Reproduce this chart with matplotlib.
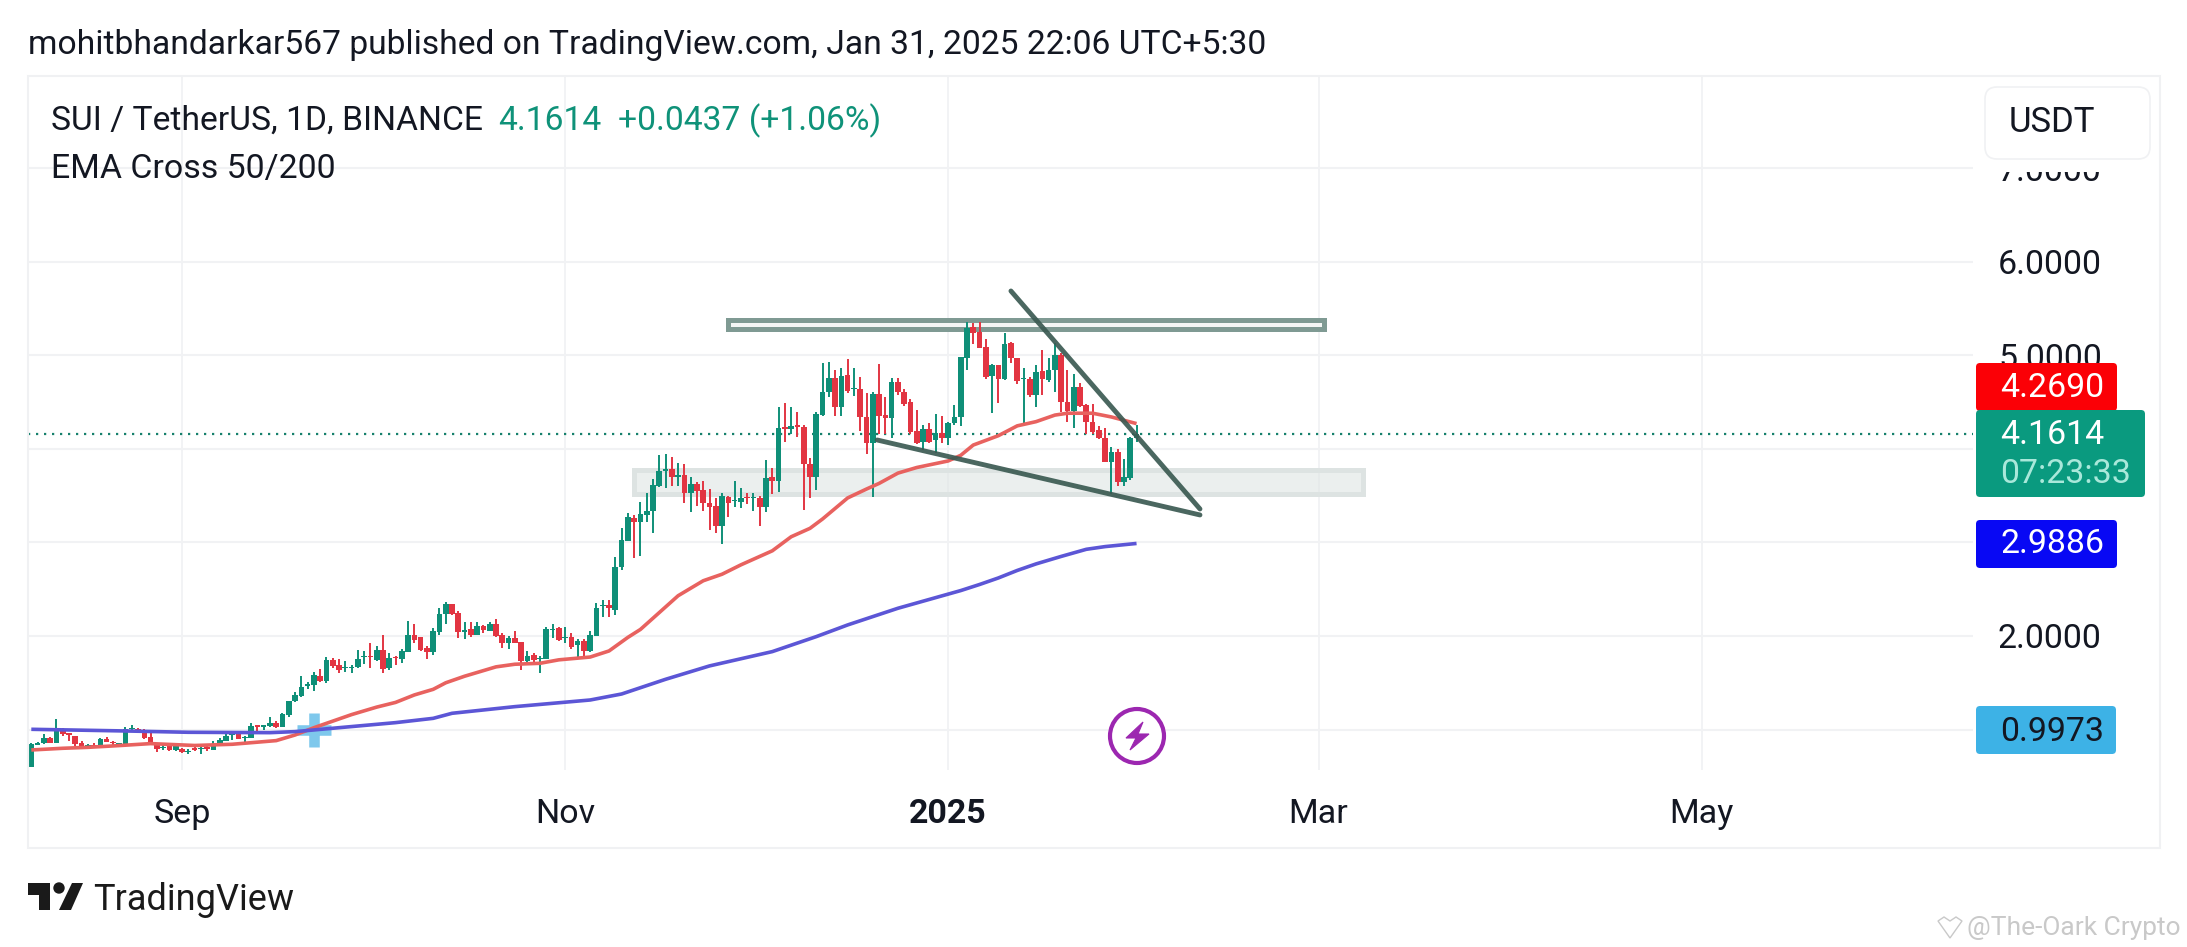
import matplotlib
matplotlib.use('Agg')
import matplotlib.pyplot as plt
from matplotlib.patches import Rectangle, FancyBboxPatch, Polygon, Circle
import numpy as np
import pandas as pd

plt.rcParams['font.family'] = ['Roboto', 'DejaVu Sans']

start_date = '2024-08-08'

opens = [0.604, 0.84, 0.853, 0.91, 0.86, 1.006, 0.96, 0.928, 0.853, 0.817,
         0.835, 0.817, 0.896, 0.867, 0.842, 0.846, 1.003, 1.01, 0.992, 0.917,
         0.842, 0.803, 0.825, 0.782, 0.792, 0.757, 0.80, 0.789, 0.816, 0.782,
         0.828, 0.88, 0.945, 0.953, 0.91, 0.914, 1.045, 1.03, 1.035, 1.067,
         1.03, 1.156, 1.30, 1.362, 1.465, 1.476, 1.576, 1.522, 1.743, 1.686,
         1.661, 1.661, 1.672, 1.775, 1.786, 1.743, 1.85, 1.654, 1.779, 1.75,
         1.832, 2.01, 1.985, 1.868, 1.832, 2.046, 2.235, 2.341, 2.242, 2.046,
         2.071, 2.01, 2.11, 2.056, 2.124, 2.01, 1.928, 1.975, 1.932, 1.732,
         1.797, 1.757, 1.757, 2.064, 2.082, 1.975, 1.992, 1.903, 1.95, 1.84,
         2.003, 2.32, 2.331, 2.278, 2.741, 3.019, 3.265, 3.215, 3.293, 3.339,
         3.603, 3.763, 3.781, 3.703, 3.72, 3.524, 3.621, 3.56, 3.425, 3.393,
         3.179, 3.489, 3.443, 3.435, 3.489, 3.475, 3.471, 3.382, 3.695, 3.66,
         4.23, 4.216, 4.255, 4.237, 3.838, 3.703, 4.361, 4.604, 4.753, 4.45,
         4.789, 4.636, 4.639, 4.336, 4.066, 4.586, 4.361, 4.326, 4.71, 4.604,
         4.504, 4.194, 4.077, 4.208, 4.094, 4.173, 4.112, 4.272, 4.344, 4.974,
         5.298, 5.252, 5.084, 4.778, 4.896, 4.743, 5.127, 4.967, 4.743, 4.743,
         4.575, 4.832, 4.736, 4.842, 5.003, 4.504, 4.408, 4.657, 4.468, 4.29,
         4.201, 4.119, 3.863, 3.963, 3.649, 3.685, 4.118]

closes = [0.846, 0.86, 0.906, 0.86, 1.003, 0.949, 0.946, 0.842, 0.80, 0.835,
          0.817, 0.899, 0.871, 0.853, 0.853, 1.003, 1.017, 0.996, 0.914, 0.835,
          0.792, 0.817, 0.782, 0.825, 0.757, 0.775, 0.785, 0.80, 0.796, 0.832,
          0.889, 0.935, 0.952, 0.903, 0.924, 1.038, 1.03, 1.045, 1.067, 1.024,
          1.166, 1.305, 1.373, 1.458, 1.483, 1.579, 1.522, 1.743, 1.683, 1.633,
          1.672, 1.672, 1.75, 1.786, 1.772, 1.85, 1.65, 1.761, 1.765, 1.843,
          2.01, 1.957, 1.85, 1.825, 2.053, 2.235, 2.341, 2.235, 2.046, 2.064,
          2.01, 2.11, 2.064, 2.128, 2.0, 1.928, 1.982, 1.928, 1.732, 1.786,
          1.743, 1.768, 2.074, 2.078, 1.957, 1.992, 1.885, 1.946, 1.84, 2.01,
          2.302, 2.331, 2.295, 2.741, 3.026, 3.268, 3.215, 3.30, 3.339, 3.614,
          3.763, 3.781, 3.695, 3.72, 3.524, 3.621, 3.553, 3.425, 3.382, 3.179,
          3.496, 3.425, 3.453, 3.478, 3.471, 3.486, 3.382, 3.685, 3.66, 4.219,
          4.216, 4.248, 4.23, 3.838, 3.703, 4.372, 4.611, 4.753, 4.45, 4.778,
          4.618, 4.647, 4.336, 4.066, 4.586, 4.351, 4.326, 4.71, 4.604, 4.479,
          4.183, 4.066, 4.208, 4.077, 4.173, 4.112, 4.28, 4.344, 4.985, 5.295,
          5.241, 5.081, 4.771, 4.896, 4.743, 5.12, 4.967, 4.728, 4.76, 4.575,
          4.825, 4.743, 4.842, 5.003, 4.504, 4.408, 4.657, 4.458, 4.29, 4.183,
          4.112, 3.863, 3.963, 3.649, 3.696, 4.112, 4.1614]

highs = [0.86, 0.87, 0.949, 0.924, 1.113, 1.017, 0.965, 0.93, 0.874, 0.85,
         0.853, 0.914, 0.917, 0.875, 0.86, 1.024, 1.045, 1.017, 1.003, 0.978,
         0.845, 0.842, 0.842, 0.835, 0.80, 0.789, 0.832, 0.825, 0.835, 0.88,
         0.906, 0.98, 0.967, 0.967, 0.93, 1.066, 1.05, 1.05, 1.138, 1.095,
         1.18, 1.305, 1.405, 1.572, 1.508, 1.618, 1.643, 1.779, 1.761, 1.75,
         1.732, 1.69, 1.85, 1.84, 1.928, 1.893, 2.01, 1.815, 1.786, 1.857,
         2.163, 2.128, 1.985, 1.893, 2.089, 2.295, 2.366, 2.341, 2.27, 2.145,
         2.153, 2.145, 2.117, 2.145, 2.177, 2.028, 2.0, 2.053, 1.932, 1.84,
         1.82, 1.786, 2.10, 2.128, 2.092, 2.1, 2.028, 1.964, 1.967, 2.056,
         2.348, 2.385, 2.385, 2.848, 3.151, 3.311, 3.293, 3.435, 3.525, 3.674,
         3.934, 3.945, 3.909, 3.845, 3.834, 3.695, 3.649, 3.656, 3.567, 3.471,
         3.532, 3.496, 3.656, 3.578, 3.532, 3.525, 3.496, 3.881, 3.792, 4.444,
         4.486, 4.444, 4.39, 4.255, 3.899, 4.397, 4.921, 4.931, 4.842, 4.86,
         4.956, 4.86, 4.764, 4.593, 4.611, 4.903, 4.55, 4.753, 4.753, 4.636,
         4.529, 4.415, 4.255, 4.272, 4.372, 4.351, 4.29, 4.468, 4.985, 5.352,
         5.341, 5.359, 5.17, 4.906, 4.896, 5.241, 5.145, 4.967, 4.86, 4.764,
         4.896, 5.056, 4.967, 5.127, 5.02, 4.842, 4.80, 4.70, 4.479, 4.479,
         4.244, 4.219, 4.016, 3.995, 3.888, 4.13, 4.255]

lows = [0.60, 0.83, 0.842, 0.856, 0.853, 0.935, 0.882, 0.828, 0.793, 0.796,
        0.807, 0.807, 0.864, 0.825, 0.832, 0.839, 0.974, 0.96, 0.903, 0.832,
        0.76, 0.782, 0.775, 0.771, 0.75, 0.743, 0.772, 0.743, 0.775, 0.78,
        0.825, 0.878, 0.889, 0.896, 0.853, 0.91, 0.985, 1.0, 1.03, 1.02,
        1.024, 1.138, 1.295, 1.344, 1.433, 1.415, 1.512, 1.494, 1.654, 1.60,
        1.618, 1.608, 1.654, 1.70, 1.658, 1.736, 1.60, 1.636, 1.693, 1.708,
        1.825, 1.921, 1.843, 1.75, 1.797, 2.01, 2.124, 2.224, 1.975, 1.967,
        1.992, 2.01, 2.035, 2.049, 1.992, 1.875, 1.861, 1.921, 1.636, 1.708,
        1.725, 1.60, 1.75, 1.975, 1.95, 1.921, 1.861, 1.768, 1.786, 1.832,
        2.0, 2.207, 2.207, 2.225, 2.705, 3.019, 2.83, 2.855, 3.222, 3.104,
        3.596, 3.578, 3.603, 3.603, 3.425, 3.329, 3.389, 3.339, 3.133, 3.097,
        2.98, 3.275, 3.382, 3.364, 3.41, 3.339, 3.176, 3.329, 3.517, 3.535,
        4.077, 4.159, 4.123, 3.346, 3.471, 3.56, 4.351, 4.55, 4.351, 4.351,
        4.60, 4.565, 4.194, 3.941, 3.489, 4.159, 4.159, 4.112, 4.575, 4.458,
        4.159, 4.05, 3.988, 4.059, 3.959, 4.059, 4.041, 4.255, 4.244, 4.842,
        5.12, 5.081, 4.743, 4.386, 4.493, 4.736, 4.914, 4.693, 4.265, 4.55,
        4.444, 4.575, 4.718, 4.611, 4.397, 4.29, 4.219, 4.451, 4.159, 4.159,
        4.102, 3.863, 3.517, 3.607, 3.607, 3.667, 4.07]

ema50_day = [0, 5, 9, 14, 19, 26, 32, 39, 42, 45, 48, 51, 55, 58, 61, 64, 66, 69, 74, 77,
             81, 84, 89, 92, 95, 97, 100, 103, 107, 110, 113, 118, 121, 124, 126, 130,
             133, 135, 138, 141, 146, 148, 150, 154, 157, 160, 163, 165, 169, 172, 176]
ema50 = [0.782, 0.80, 0.81, 0.829, 0.85, 0.83, 0.843, 0.882, 0.942, 1.02, 1.09, 1.16, 1.24,
         1.29, 1.37, 1.43, 1.50, 1.57, 1.67, 1.698, 1.708, 1.745, 1.775, 1.84, 1.985, 2.07,
         2.25, 2.43, 2.59, 2.66, 2.76, 2.91, 3.06, 3.15, 3.25, 3.475, 3.57, 3.63, 3.74, 3.80,
         3.87, 3.93, 4.04, 4.14, 4.245, 4.29, 4.36, 4.38, 4.38, 4.34, 4.269]

ema200_day = [0, 15, 25, 38, 42, 48, 58, 64, 67, 77, 89, 94, 101, 108, 118, 125, 130, 138,
              148, 151, 154, 157, 160, 164, 168, 171, 176]
ema200 = [1.003, 0.985, 0.971, 0.967, 0.978, 1.014, 1.074, 1.12, 1.174, 1.245, 1.316, 1.38,
          1.537, 1.68, 1.833, 1.993, 2.118, 2.296, 2.485, 2.55, 2.62, 2.70, 2.77, 2.85,
          2.926, 2.955, 2.9886]

month_dates = ['2024-09-01', '2024-11-01', '2025-01-01', '2025-03-01', '2025-05-01']
month_labels = ['Sep', 'Nov', '2025', 'Mar', 'May']
price_ticks = [1, 2, 3, 4, 5, 6, 7]
price_labels = ['', '2.0000', '', '', '5.0000', '6.0000', '7.0000']

last_price = 4.1614

GREEN = '#0f8f78'
RED = '#e23542'
GRID = '#f1f2f4'
INK = '#131722'
DRAW = '#3b5a52'

W, H = 2187, 947
fig = plt.figure(figsize=(W / 100, H / 100), dpi=100, facecolor='white')

ax = fig.add_axes([28 / W, 1 - 770 / H, (1973 - 28) / W, (770 - 76) / H])
ax.set_xlim(-0.526, 309.2)
ax.set_ylim(0.568, 7.983)
for s in ax.spines.values():
    s.set_visible(False)

day0 = pd.Timestamp(start_date)
month_days = [(pd.Timestamp(d) - day0).days for d in month_dates]
ax.set_xticks(month_days)
ax.set_xticklabels(month_labels, fontsize=24.5, color=INK)
ax.get_xticklabels()[2].set_fontweight('bold')
ax.set_yticks(price_ticks)
ax.set_yticklabels(price_labels, fontsize=24.4, color=INK)
ax.yaxis.tick_right()
ax.tick_params(axis='both', length=0)
ax.tick_params(axis='y', pad=18)
ax.tick_params(axis='x', pad=20)
ax.grid(True, axis='y', color=GRID, lw=1.5)
ax.grid(True, axis='x', color=GRID, lw=1.3)
ax.set_axisbelow(True)

# zones
ax.add_patch(Rectangle((96.05, 3.522), 115.95, 0.246, fc='#dfe5e4', ec='#dde3e2', lw=3.6,
                       alpha=0.6, zorder=1))
ax.add_patch(Rectangle((96.05, 3.522), 115.95, 0.246, fc='none', ec='#dde3e2', lw=3.6, zorder=1.1))
ax.add_patch(Rectangle((110.9, 5.285), 94.95, 0.086, fc='#f4f6f5', ec='#7f9a93', lw=3.6, zorder=1.2))

# candles
days = np.arange(len(opens))
o = np.array(opens)
c = np.array(closes)
colors = [GREEN if b >= a else RED for a, b in zip(o, c)]
ax.vlines(days, lows, highs, colors=colors, lw=1.4, zorder=3)
ax.bar(days, np.maximum(np.abs(c - o), 0.012), bottom=np.minimum(o, c), width=0.9, color=colors,
       lw=0, zorder=3.1)

# cross marker where the EMAs meet
ax.plot([45], [1.0], marker='+', ms=24, mew=7.6, color='#7ec8ec', zorder=2)

ax.plot(ema50_day, ema50, color='#e8625f', lw=2.6, zorder=4, solid_capstyle='butt', solid_joinstyle='round')
ax.plot(ema200_day, ema200, color='#5c56d6', lw=2.6, zorder=4, solid_capstyle='butt', solid_joinstyle='round')

ax.axhline(last_price, color='#16806c', lw=1.6, ls=(0, (1, 2.6)), zorder=2)

# hand drawn wedge
ax.plot([156, 186.1], [5.686, 3.357], color=DRAW, lw=3.5, alpha=0.92, solid_capstyle='round', zorder=5)
ax.plot([134.7, 186.1], [4.094, 3.293], color=DRAW, lw=3.5, alpha=0.92, solid_capstyle='round', zorder=5)

# page level items in pixel coordinates
pg = fig.add_axes([0, 0, 1, 1], facecolor='none')
pg.set_xlim(0, W)
pg.set_ylim(H, 0)
pg.axis('off')

pg.add_patch(Rectangle((28, 76), 2160 - 28, 848 - 76, fc='none', ec='#f0f1f3', lw=1.5))
pg.add_patch(Rectangle((1976, 78), 2158 - 1976, 172 - 78, fc='white', ec='none'))
pg.add_patch(FancyBboxPatch((1995, 97), 145, 52, boxstyle='round,pad=10,rounding_size=12',
                            fc='white', ec='#f0f1f3', lw=1.2))
pg.text(2052, 122, 'USDT', fontsize=25, color=INK, ha='center', va='center')

pg.text(28, 54, 'mohitbhandarkar567 published on TradingView.com, Jan 31, 2025 22:06 UTC+5:30',
        fontsize=24.25, color=INK, va='baseline')
pg.text(51, 130, 'SUI / TetherUS, 1D, BINANCE', fontsize=24.2, color=INK, va='baseline')
pg.text(498, 130, '4.1614', fontsize=24.2, color='#0f9279', va='baseline')
pg.text(618, 130, '+0.0437 (+1.06%)', fontsize=24.2, color='#0f9279', va='baseline')
pg.text(51, 178, 'EMA Cross 50/200', fontsize=24.4, color=INK, va='baseline')

# price tags
def tag(x0, x1, y0, y1, color):
    pg.add_patch(FancyBboxPatch((x0, y0), x1 - x0, y1 - y0, boxstyle='round,pad=0,rounding_size=4',
                                fc=color, ec='none'))

tag(1976, 2117, 363, 411, '#fb0006')
tag(1976, 2145, 410, 497, '#0a9a7f')
tag(1976, 2117, 520, 568, '#0808f4')
tag(1976, 2116, 706, 754, '#3db2e6')
pg.text(2000, 388, '4.2690', fontsize=24.4, color='white', va='center')
pg.text(2000, 435, '4.1614', fontsize=24.4, color='white', va='center')
pg.text(2000, 474, '07:23:33', fontsize=24.4, color='#a9e8da', va='center')
pg.text(2000, 544, '2.9886', fontsize=24.4, color='white', va='center')
pg.text(2000, 732, '0.9973', fontsize=24.4, color=INK, va='center')

# lightning icon
pg.add_patch(Circle((1137, 736), 27, fc='white', ec='#9c27b0', lw=3))
bolt = np.array([[6, -14], [-11, 2], [-1, 2], [-7, 14], [12, -2], [1, -2]]) + [1137, 736]
pg.add_patch(Polygon(bolt, closed=True, fc='#9c27b0', ec='#9c27b0', lw=0.8))

# TradingView logo
pg.add_patch(Polygon([[28, 883], [50, 883], [50, 910], [39, 910], [39, 895], [28, 895]], fc='#1a1a1a', ec='none'))
pg.add_patch(Circle((59, 888), 5.7, fc='#1a1a1a', ec='none'))
pg.add_patch(Polygon([[72, 883], [83, 883], [71, 910], [59, 910]], fc='#1a1a1a', ec='none'))
pg.text(93, 910, 'TradingView', fontsize=26, color='#1a1a1a', va='baseline')

# watermark
pg.text(1967, 928, '@The-Oark Crypto', fontsize=19, color='#c9c9c9', va='center')
pg.add_patch(Polygon([[1938, 921], [1950, 938], [1962, 921], [1956, 917], [1950, 921], [1944, 917]],
                     fc='none', ec='#c9c9c9', lw=1))

fig.savefig('out.png', dpi=100, facecolor='white')
